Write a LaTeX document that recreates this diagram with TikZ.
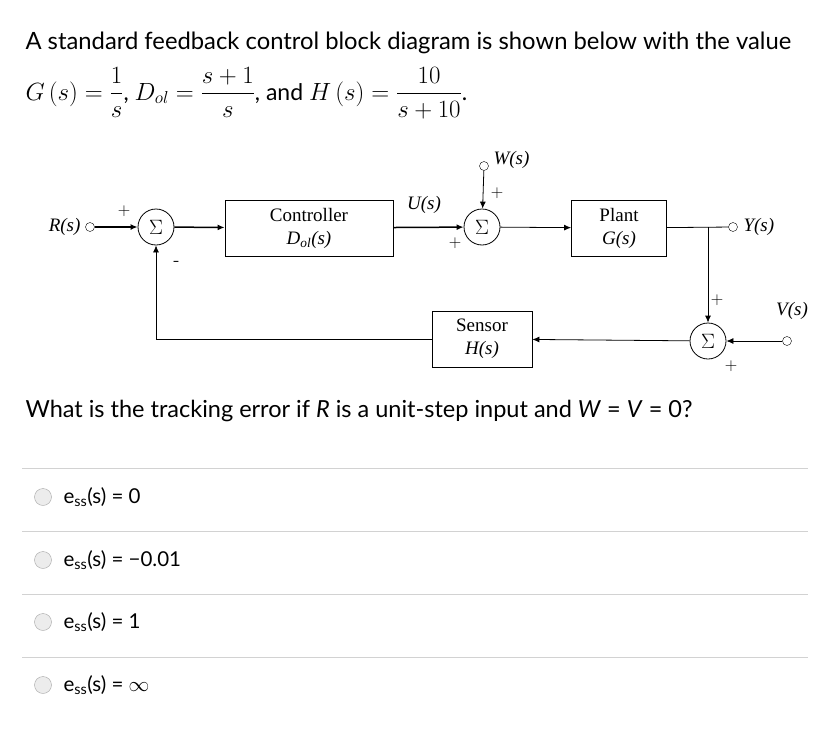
\documentclass[tikz,border=0pt]{standalone}
\usepackage{amsmath}
\usepackage{fontspec}
\setmainfont{Lato}
\newfontfamily\tms{Liberation Serif}
\usetikzlibrary{arrows.meta}
\begin{document}
\begin{tikzpicture}[x=1pt,y=-1pt,
  blk/.style={draw,thick,minimum width=#1,minimum height=56,align=center,font=\tms\fontsize{19}{23}\selectfont},
  sm/.style={draw,thick,circle,minimum size=36,inner sep=0,font=\fontsize{20}{20}\selectfont},
  term/.style={draw,circle,inner sep=0,minimum size=9,fill=white},
  lbl/.style={font=\tms\itshape\fontsize{19}{22}\selectfont},
  pm/.style={font=\tms\fontsize{17}{17}\selectfont},
  ar/.style={-{Latex[length=7,width=6]},thick},
  radio/.style={circle,draw=gray!70,fill=gray!15,minimum size=17,inner sep=0},
  opt/.style={anchor=west,font=\fontsize{20.5}{24}\selectfont}]
\useasboundingbox (0,0) rectangle (823,731);
\node[anchor=west,font=\fontsize{23.8}{28}\selectfont] (t1) at (22,43) {A standard feedback control block diagram is shown below with the value};
\node[anchor=west,font=\fontsize{23}{28}\selectfont] (t2) at (22,93) {$G\left(s\right)=\dfrac{1}{s}$, $D_{ol}=\dfrac{s+1}{s}$, and $H\left(s\right)=\dfrac{10}{s+10}$.};
% diagram
\node[term] (r) at (90,227) {};
\node[lbl,anchor=east] (rl) at (84,227) {R(s)};
\node[sm] (s1) at (156,227) {$\Sigma$};
\node[blk=168] (c) at (309,228) {Controller\\ \textit{D}\textsubscript{\textit{ol}}\textit{(s)}};
\node[sm] (s2) at (482,227) {$\Sigma$};
\node[term] (w) at (484,166) {};
\node[lbl,anchor=west] (wl) at (490,160) {W(s)};
\node[blk=95] (p) at (619,228) {Plant\\ \textit{G(s)}};
\node[term] (y) at (733,227) {};
\node[lbl,anchor=west] (yl) at (740,227) {Y(s)};
\coordinate (br) at (708,227);
\node[sm] (s3) at (708,341) {$\Sigma$};
\node[term] (v) at (787,341) {};
\node[lbl] (vl) at (792,311) {V(s)};
\node[blk=100] (h) at (482,339) {Sensor\\ \textit{H(s)}};
\coordinate (fb) at (156,339);
\node[lbl] (ul) at (424,205) {U(s)};
\node[pm] (p1) at (124,211) {$+$};
\node[font=\bfseries\large] (m1) at (176,263) {--};
\node[pm] (p2) at (497,193) {$+$};
\node[pm] (p3) at (455,243) {$+$};
\node[pm] (p4) at (717,300) {$+$};
\node[pm] (p5) at (731,366) {$+$};
\draw[ar,line width=1.5pt] (r) -- (s1);
\draw[ar,line width=1.5pt] (s1) -- (c);
\draw[ar,line width=1.5pt] (c) -- (s2);
\draw[ar] (w) -- (s2);
\draw[ar] (s2) -- (p);
\draw[thick] (p) -- (y);
\draw[ar] (br) -- (s3);
\draw[ar] (v) -- (s3);
\draw[ar] (s3) -- (h);
\draw[ar] (h.west) -- (fb) -- (s1);
% question
\node[anchor=west,font=\fontsize{23.5}{28}\selectfont] (q) at (22,411) {What is the tracking error if \textit{R} is a unit-step input and \textit{W} = \textit{V} = 0?};
\foreach \yy in {468,531,594,657}{\draw[gray!35] (22,\yy) -- (808,\yy);}
\node[radio] (o1) at (43,497) {};
\node[opt] (e1) at (60,497) {e\textsubscript{ss}(s) = 0};
\node[radio] (o2) at (43,560) {};
\node[opt] (e2) at (60,560) {e\textsubscript{ss}(s) = −0.01};
\node[radio] (o3) at (43,622) {};
\node[opt] (e3) at (60,622) {e\textsubscript{ss}(s) = 1};
\node[radio] (o4) at (43,685) {};
\node[opt] (e4) at (60,685) {e\textsubscript{ss}(s) = $\infty$};
\end{tikzpicture}
\end{document}
